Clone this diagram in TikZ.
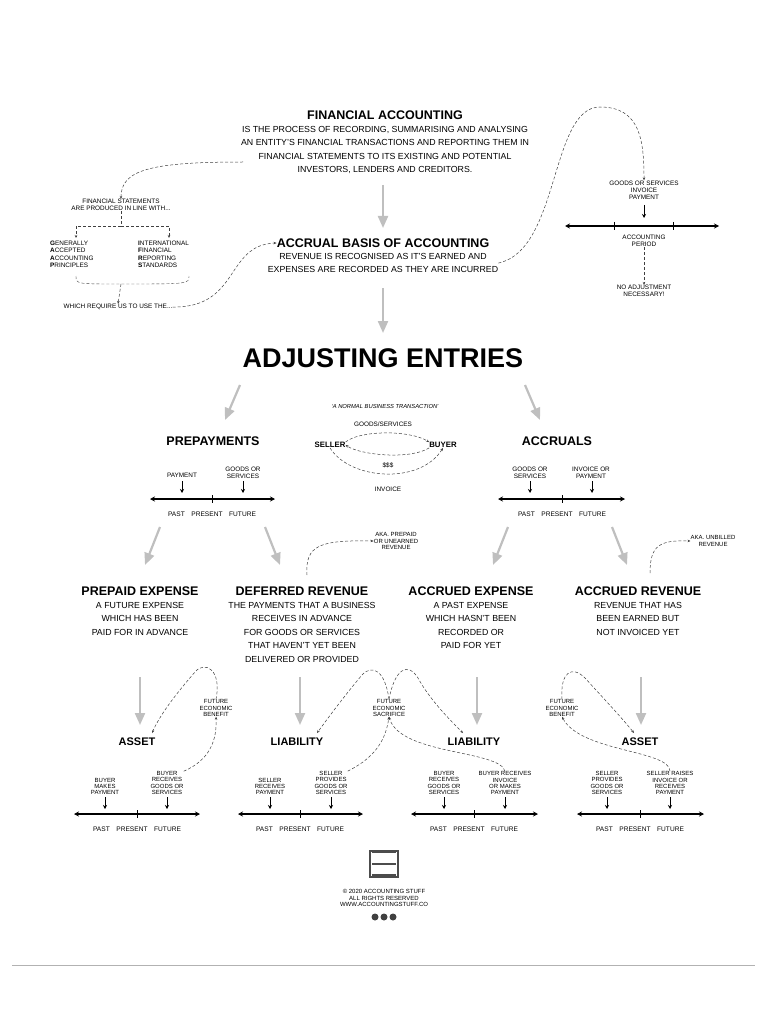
\documentclass[tikz,border=0pt]{standalone}
\usepackage{fontspec}
\setmainfont{Liberation Sans}
\usetikzlibrary{arrows.meta}
\begin{document}
\begin{tikzpicture}[x=1pt,y=-1pt,
  title/.style={font=\bfseries\fontsize{12.5}{13}\selectfont,inner sep=0pt},
  body/.style={font=\fontsize{8.8}{13.5}\selectfont,align=center,inner sep=0pt},
  small/.style={font=\fontsize{6.4}{7.2}\selectfont,align=center,inner sep=0pt},
  tiny/.style={font=\fontsize{6}{6.4}\selectfont,align=center,inner sep=0pt},
  garrow/.style={draw=black!25,line width=2.2pt,-{Triangle[width=10pt,length=12pt]}},
  dasharr/.style={draw=black!75,densely dashed,line width=0.5pt,-{Stealth[length=3pt,width=2.5pt]}},
  tl/.style={draw,line width=1.1pt,{Stealth[length=5pt,width=5pt]}-{Stealth[length=5pt,width=5pt]}},
  darr/.style={draw,line width=1pt,-{Stealth[length=4pt,width=4pt]}}]
\useasboundingbox (0,0) rectangle (768,1024);
% top
\node[title] (fa) at (385,115) {FINANCIAL ACCOUNTING};
\node[body,anchor=north] (fab) at (385,126) {IS THE PROCESS OF RECORDING, SUMMARISING AND ANALYSING\\AN ENTITY'S FINANCIAL TRANSACTIONS AND REPORTING THEM IN\\FINANCIAL STATEMENTS TO ITS EXISTING AND POTENTIAL\\INVESTORS, LENDERS AND CREDITORS.};
\coordinate (fa1) at (383,185); \coordinate (fa2) at (383,228);
\draw[garrow] (fa1) -- (fa2);
\node[small] (fs) at (121,205) {FINANCIAL STATEMENTS\\ARE PRODUCED IN LINE WITH...};
\node[small,align=left,anchor=north west] (gaap) at (50,241) {\textbf{G}ENERALLY\\\textbf{A}CCEPTED\\\textbf{A}CCOUNTING\\\textbf{P}RINCIPLES};
\node[small,align=left,anchor=north west] (ifrs) at (138,241) {\textbf{I}NTERNATIONAL\\\textbf{F}INANCIAL\\\textbf{R}EPORTING\\\textbf{S}TANDARDS};
\node[small] (wr) at (118,307) {WHICH REQUIRE US TO USE THE...};
\coordinate (fsend) at (243,162);
\draw[dasharr] (fsend) .. controls (150,162) and (121,170) .. (fs.north);
\coordinate (br) at (121,226);
\draw[dasharr] (fs.south) -- (br) -| (76,238);
\draw[dasharr] (br) -| (169,238);
\coordinate (bl) at (121,284);
\draw[densely dashed,draw=black!75] (76,276) .. controls (76,284) .. (bl) .. controls (189,284) .. (189,276);
\draw[dasharr] (bl) -- (wr.north);
\node[title] (ab) at (383,243) {ACCRUAL BASIS OF ACCOUNTING};
\node[body,anchor=north] (abb) at (383,253) {REVENUE IS RECOGNISED AS IT'S EARNED AND\\EXPENSES ARE RECORDED AS THEY ARE INCURRED};
\draw[dasharr] (wr.east) .. controls (240,308) and (225,245) .. (ab.west);
\node[small] (gsp) at (644,190) {GOODS OR SERVICES\\INVOICE\\PAYMENT};
\draw[dasharr] (abb.east) .. controls (560,250) and (550,107) .. (600,107) .. controls (640,107) and (644,140) .. (gsp.north);
\coordinate (t0a) at (565,226); \coordinate (t0b) at (719,226);
\draw[tl] (t0a) -- (t0b);
\draw[line width=0.8pt] (614,222) -- (614,230) (673,222) -- (673,230);
\draw[darr] (644,205) -- (644,218);
\node[small] (ap) at (644,241) {ACCOUNTING\\PERIOD};
\node[small] (na) at (644,291) {NO ADJUSTMENT\\NECESSARY!};
\draw[dasharr] (ap.south) -- (na.north);
\coordinate (ab1) at (383,288); \coordinate (ab2) at (383,333);
\draw[garrow] (ab1) -- (ab2);
\node[font=\bfseries\fontsize{27}{28}\selectfont,inner sep=0pt] (ae) at (383,358) {ADJUSTING ENTRIES};
\coordinate (g1a) at (240,385); \coordinate (g1b) at (225,420);
\coordinate (g2a) at (525,385); \coordinate (g2b) at (540,420);
\draw[garrow] (g1a) -- (g1b); \draw[garrow] (g2a) -- (g2b);
% center transaction
\node[small,font=\itshape\fontsize{5.8}{6}\selectfont] (nbt) at (385,406) {`A NORMAL BUSINESS TRANSACTION'};
\node[small] (gsl) at (383,424) {GOODS/SERVICES};
\node[title,font=\bfseries\fontsize{7.8}{8}\selectfont] (seller) at (330,445) {SELLER};
\node[title,font=\bfseries\fontsize{7.8}{8}\selectfont] (buyer) at (443,445) {BUYER};
\node[small] (usd) at (388,465) {\$\$\$};
\node[small] (inv) at (388,489) {INVOICE};
\draw[dasharr] (seller.north east) .. controls (360,430) and (410,430) .. (buyer.north west);
\draw[dasharr] (buyer.south west) .. controls (410,460) and (360,455) .. (seller.east);
\draw[dasharr] (seller.south) .. controls (350,480) and (420,485) .. (buyer.south);
% prepayments / accruals
\node[title] (pp) at (213,441) {PREPAYMENTS};
\node[title] (acc) at (557,441) {ACCRUALS};
\draw[tl] (150,499) -- (275,499); \draw[line width=0.8pt] (212,495) -- (212,503);
\node[small] (pay) at (182,475) {PAYMENT};
\node[small] (gos1) at (243,473) {GOODS OR\\SERVICES};
\draw[darr] (182,481) -- (182,493); \draw[darr] (243,481) -- (243,493);
\node[small,font=\fontsize{6.6}{7}\selectfont] (ppf1) at (212,514) {PAST\quad PRESENT\quad FUTURE};
\draw[tl] (498,499) -- (625,499); \draw[line width=0.8pt] (562,495) -- (562,503);
\node[small] (gos2) at (530,473) {GOODS OR\\SERVICES};
\node[small] (iop) at (591,473) {INVOICE OR\\PAYMENT};
\draw[darr] (530,481) -- (530,493); \draw[darr] (592,481) -- (592,493);
\node[small,font=\fontsize{6.6}{7}\selectfont] (ppf2) at (562,514) {PAST\quad PRESENT\quad FUTURE};
\coordinate (h1a) at (160,527); \coordinate (h1b) at (145,565);
\coordinate (h2a) at (265,527); \coordinate (h2b) at (280,565);
\coordinate (h3a) at (508,527); \coordinate (h3b) at (493,565);
\coordinate (h4a) at (612,527); \coordinate (h4b) at (627,565);
\foreach \a/\b in {h1a/h1b,h2a/h2b,h3a/h3b,h4a/h4b} \draw[garrow] (\a) -- (\b);
\node[tiny] (aka1) at (396,541) {AKA. PREPAID\\OR UNEARNED\\REVENUE};
\node[tiny] (aka2) at (713,541) {AKA. UNBILLED\\REVENUE};
\coordinate (d1) at (307,575); \coordinate (d2) at (650,573);
\draw[dasharr] (d1) .. controls (305,545) and (320,540) .. (aka1.west);
\draw[dasharr] (d2) .. controls (650,545) and (660,540) .. (aka2.west);
% four definitions
\node[title] (pe) at (140,591) {PREPAID EXPENSE};
\node[title] (dr) at (302,591) {DEFERRED REVENUE};
\node[title] (ax) at (471,591) {ACCRUED EXPENSE};
\node[title] (ar) at (638,591) {ACCRUED REVENUE};
\node[body,anchor=north] at (140,602) {A FUTURE EXPENSE\\WHICH HAS BEEN\\PAID FOR IN ADVANCE};
\node[body,anchor=north] at (302,602) {THE PAYMENTS THAT A BUSINESS\\RECEIVES IN ADVANCE\\FOR GOODS OR SERVICES\\THAT HAVEN'T YET BEEN\\DELIVERED OR PROVIDED};
\node[body,anchor=north] at (471,602) {A PAST EXPENSE\\WHICH HASN'T BEEN\\RECORDED OR\\PAID FOR YET};
\node[body,anchor=north] at (638,602) {REVENUE THAT HAS\\BEEN EARNED BUT\\NOT INVOICED YET};
\foreach \x/\n in {140/v1,300/v2,477/v3,641/v4}{
  \coordinate (\n a) at (\x,677); \coordinate (\n b) at (\x,725);
  \draw[garrow] (\n a) -- (\n b);}
\node[title,font=\bfseries\fontsize{11}{11}\selectfont] (as1) at (137,742) {ASSET};
\node[title,font=\bfseries\fontsize{11}{11}\selectfont] (li1) at (297,742) {LIABILITY};
\node[title,font=\bfseries\fontsize{11}{11}\selectfont] (li2) at (474,742) {LIABILITY};
\node[title,font=\bfseries\fontsize{11}{11}\selectfont] (as2) at (640,742) {ASSET};
% bottom timelines
\foreach \l/\t/\r/\pa/\pb in {74/137/200/105/167, 238/300/363/270/331, 411/474/538/444/505, 577/640/704/607/670}{
  \draw[tl] (\l,814) -- (\r,814); \draw[line width=0.8pt] (\t,810) -- (\t,818);
  \draw[darr] (\pa,797) -- (\pa,809); \draw[darr] (\pb,797) -- (\pb,809);
  \node[small,font=\fontsize{6.6}{7}\selectfont] at (\t,829) {PAST\quad PRESENT\quad FUTURE};}
\node[tiny,anchor=south] (b1) at (105,795) {BUYER\\MAKES\\PAYMENT};
\node[tiny,anchor=south] (b2) at (167,795) {BUYER\\RECEIVES\\GOODS OR\\SERVICES};
\node[tiny,anchor=south] (b3) at (270,795) {SELLER\\RECEIVES\\PAYMENT};
\node[tiny,anchor=south] (b4) at (331,795) {SELLER\\PROVIDES\\GOODS OR\\SERVICES};
\node[tiny,anchor=south] (b5) at (444,795) {BUYER\\RECEIVES\\GOODS OR\\SERVICES};
\node[tiny,anchor=south] (b6) at (505,795) {BUYER RECEIVES\\INVOICE\\OR MAKES\\PAYMENT};
\node[tiny,anchor=south] (b7) at (607,795) {SELLER\\PROVIDES\\GOODS OR\\SERVICES};
\node[tiny,anchor=south] (b8) at (670,795) {SELLER RAISES\\INVOICE OR\\RECEIVES\\PAYMENT};
\node[tiny] (feb1) at (216,708) {FUTURE\\ECONOMIC\\BENEFIT};
\node[tiny] (fes) at (389,708) {FUTURE\\ECONOMIC\\SACRIFICE};
\node[tiny] (feb2) at (562,708) {FUTURE\\ECONOMIC\\BENEFIT};
\draw[dasharr] (b2.north east) .. controls (210,760) and (217,740) .. (feb1.south);
\draw[dasharr] (feb1.north) .. controls (222,670) and (205,660) .. (195,672) .. controls (175,695) and (160,715) .. (152,733);
\draw[dasharr] (b4.north east) .. controls (370,760) and (385,745) .. (fes.south);
\draw[dasharr] (b6.north) .. controls (500,750) and (400,755) .. (fes.south);
\draw[dasharr] (fes.north) .. controls (385,670) and (372,664) .. (362,675) .. controls (345,695) and (328,718) .. (317,733);
\draw[dasharr] (fes.north) .. controls (395,668) and (408,662) .. (418,678) .. controls (430,700) and (450,720) .. (463,733);
\draw[dasharr] (b8.north) .. controls (670,750) and (580,752) .. (feb2.south);
\draw[dasharr] (feb2.north) .. controls (560,672) and (572,665) .. (585,678) .. controls (605,700) and (622,718) .. (634,733);
% footer
\node[draw=black!70,line width=1.2pt,minimum width=28pt,minimum height=26pt,inner sep=0pt] (abacus) at (384,864) {};
\draw[black!70,line width=2pt] (372,852) -- (396,852) (372,864) -- (396,864) (372,875) -- (396,875);
\node[tiny] (copy) at (384,898) {\textcopyright{} 2020 ACCOUNTING STUFF\\ALL RIGHTS RESERVED\\WWW.ACCOUNTINGSTUFF.CO};
\foreach \x in {375,384,393} \fill[black!75] (\x,917) circle (3.5pt);
\draw[black!30,line width=0.6pt] (12,965) -- (755,965);
\end{tikzpicture}
\end{document}
